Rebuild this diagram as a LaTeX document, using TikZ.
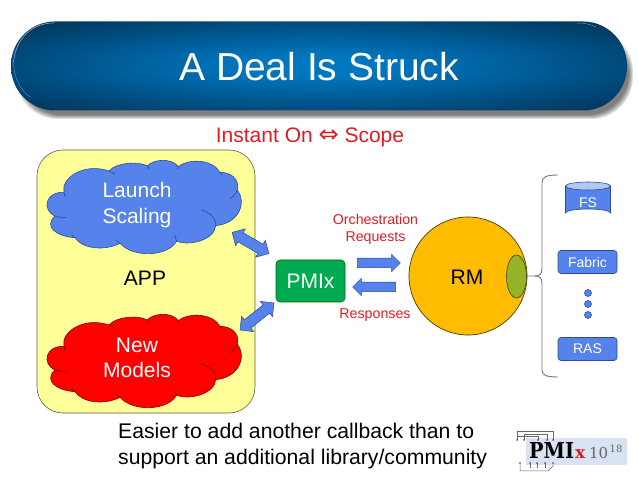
\documentclass[tikz,border=0pt]{standalone}
\usepackage{fontspec}
\setmainfont{Liberation Sans}
\newfontfamily\logoserif{DejaVu Serif}
\usetikzlibrary{shapes.arrows,shapes.geometric}
\definecolor{bandlight}{RGB}{0,118,190}
\definecolor{bandmid}{RGB}{0,88,145}
\definecolor{bandlow}{RGB}{0,56,94}
\definecolor{banddark}{RGB}{0,32,54}
\definecolor{appfill}{RGB}{255,255,153}
\definecolor{appline}{RGB}{95,95,70}
\definecolor{cloudblue}{RGB}{85,130,235}
\definecolor{cloudline}{RGB}{45,75,150}
\definecolor{redtext}{RGB}{222,28,36}
\definecolor{pmigreen}{RGB}{0,170,80}
\definecolor{rmorange}{RGB}{255,188,0}
\definecolor{rmgreen}{RGB}{150,178,40}
\definecolor{bracegray}{RGB}{120,120,120}
\definecolor{logoblue}{RGB}{217,226,243}
\pgfdeclareradialshading{bandshade}{\pgfpoint{0bp}{0bp}}{
  color(0bp)=(bandlight);color(6bp)=(bandlight);color(19bp)=(bandmid);color(33bp)=(bandlow);color(50bp)=(banddark)}
\newcommand{\cloudshape}{
  (72,112) .. controls (62,70) and (130,22) .. (207,48)
  .. controls (230,22) and (295,18) .. (322,33)
  .. controls (340,12) and (395,8) .. (415,35)
  .. controls (450,8) and (520,15) .. (540,52)
  .. controls (570,52) and (600,70) .. (592,105)
  .. controls (620,140) and (600,205) .. (527,212)
  .. controls (525,255) and (445,275) .. (410,258)
  .. controls (385,305) and (280,310) .. (240,265)
  .. controls (190,290) and (125,280) .. (105,248)
  .. controls (50,245) and (10,215) .. (45,183)
  .. controls (5,165) and (15,110) .. (72,112) -- cycle
}
\newcommand{\cloudinner}{
  (72,112) -- (75,125)
  (45,183) .. controls (55,187) and (68,188) .. (80,187)
  (207,48) .. controls (213,50) and (220,54) .. (225,58)
  (322,33) -- (328,42)
  (415,35) -- (412,42)
  (540,52) -- (546,60)
  (592,105) .. controls (588,115) and (580,125) .. (570,132)
  (483,165) .. controls (510,172) and (530,190) .. (527,212)
  (410,258) .. controls (407,252) and (405,246) .. (405,240)
  (240,265) -- (228,255)
  (105,248) -- (95,240)
}
\tikzset{
  cloudbody/.style={line width=0.6pt},
  whitetext/.style={text=white,align=center,inner sep=0pt},
  redlabel/.style={text=redtext,font=\fontsize{14.2}{17}\selectfont,align=center,inner sep=0pt},
  flowarrow/.style={single arrow,draw=cloudline,fill=cloudblue,line width=0.5pt,minimum height=43pt,text height=4.5pt,text depth=4.5pt,text width=1pt,single arrow head extend=4pt,single arrow head indent=0pt,inner sep=0pt},
  linkarrow/.style={double arrow,draw=cloudline,fill=cloudblue,line width=0.5pt,text height=5pt,text depth=5pt,text width=1pt,double arrow head extend=4.5pt,double arrow head indent=0pt,inner sep=0pt},
  resbox/.style={draw=cloudline,fill=cloudblue,rounded corners=3pt,line width=0.6pt,text=white,font=\fontsize{14}{14}\selectfont,inner sep=0pt},
  dotnode/.style={circle,draw=cloudline,fill=cloudblue,line width=0.6pt,minimum size=7pt,inner sep=0pt},
  logotrace/.style={draw=black!60,line width=0.5pt},
  logodot/.style={circle,fill=black!70,minimum size=1.6pt,inner sep=0pt},
}
\begin{document}
\begin{tikzpicture}[x=1pt,y=-1pt]
\useasboundingbox (0,0) rectangle (638,478);
\fill[white] (0,0) rectangle (638,478);
% title band
\foreach \i in {0,1,...,4}{
  \fill[black,opacity=0.13,rounded corners=42pt] ({16+\i},{30+\i}) rectangle ({633-\i},{119-\i});
}
\path[shading=bandshade,rounded corners=44pt] (11,21.5) rectangle (627,110.5);
\draw[white!75!black,line width=0.6pt,opacity=0.8,line cap=round] (54,23) .. controls (32,23) and (16,38) .. (13.5,62);
\draw[white!55!bandmid,line width=0.5pt,opacity=0.6,line cap=round] (13.5,62) .. controls (14,78) and (20,90) .. (30,97);
\draw[white!55!bandmid,line width=0.5pt,opacity=0.7] (577,23) .. controls (584,23) and (590,24) .. (596,27);
\node[text=white,font=\fontsize{39}{39}\selectfont,inner sep=0pt] (title) at (319,67) {A Deal Is Struck};
\node[text=redtext,font=\fontsize{21}{21}\selectfont,inner sep=0pt] (subtitle) at (310,137) {Instant On {\fontspec{DejaVu Sans}\fontsize{24}{21}\selectfont ⇔} Scope};
% app
\node[draw=appline,fill=appfill,rounded corners=26pt,line width=0.6pt,minimum width=218pt,minimum height=263pt,inner sep=0pt] (app) at (146,281.5) {};
\begin{scope}[x=0.3333pt,y=-0.3333pt,shift={(40pt,-155pt)}]
  \fill[cloudblue] \cloudshape;
  \draw[cloudline,cloudbody] \cloudshape;
  \draw[cloudline,cloudbody] \cloudinner;
\end{scope}
\begin{scope}[x=0.3333pt,y=-0.3333pt,shift={(40pt,-309pt)}]
  \fill[red] \cloudshape;
  \draw[red!50!black,cloudbody] \cloudshape;
  \draw[red!50!black,cloudbody] \cloudinner;
\end{scope}
\node[whitetext,font=\fontsize{21}{26}\selectfont] (launch) at (137,205) {Launch\\Scaling};
\node[whitetext,font=\fontsize{21}{25}\selectfont] (models) at (137,358) {New\\Models};
\node[font=\fontsize{21}{21}\selectfont,inner sep=0pt] (applabel) at (145,278) {APP};
% PMIx
\node[draw=green!40!black,fill=pmigreen,rounded corners=4pt,line width=0.6pt,minimum width=69pt,minimum height=42pt,inner sep=0pt,text=white,font=\fontsize{21}{21}\selectfont] (pmix) at (310.5,281) {PMIx};
\node[linkarrow,minimum height=42.5pt,rotate=-30] (linkup) at (250.5,243) {};
\node[linkarrow,minimum height=43.5pt,rotate=38.5] (linkdown) at (257,316.5) {};
% RM
\node[circle,draw=black!70!rmorange,fill=rmorange,line width=0.7pt,minimum size=118pt,inner sep=0pt] (rm) at (468,276) {};
\node[ellipse,draw=black!60!rmgreen,fill=rmgreen,line width=0.6pt,minimum width=20pt,minimum height=43pt,inner sep=0pt] (port) at (516.5,276.5) {};
\node[font=\fontsize{21}{21}\selectfont,inner sep=0pt] (rmlabel) at (467,277) {RM};
% flow arrows
\node[flowarrow] (req) at (376.5,263) {};
\node[flowarrow,shape border rotate=180] (resp) at (376.5,287) {};
\node[redlabel] (orch) at (375.5,229.5) {Orchestration\\Requests};
\node[redlabel] (resplabel) at (375,315.5) {Responses};
% brace
\coordinate (bracetip) at (527,276);
\draw[bracegray,line width=0.9pt] (bracetip) -- (535,276) .. controls (540,276) and (542,274) .. (542,268) -- (542,183) .. controls (542,177) and (546,175) .. (558,175);
\draw[bracegray,line width=0.9pt] (535,276) .. controls (540,276) and (542,278) .. (542,284) -- (542,370) .. controls (542,375) and (546,377) .. (558,377);
% resources
\draw[cloudline,fill=cloudblue,line width=0.6pt] (565.5,186) -- (565.5,213) arc[start angle=180,end angle=360,x radius=22.5pt,y radius=-4pt] -- (610.5,186) -- cycle;
\draw[cloudline,fill=cloudblue!45!white,line width=0.6pt] (588,186) ellipse[x radius=22.5pt,y radius=4pt];
\node[text=white,font=\fontsize{14}{14}\selectfont,inner sep=0pt] (fslabel) at (588,203) {FS};
\node[resbox,minimum width=59pt,minimum height=23pt] (fabric) at (587.5,262) {Fabric};
\node[dotnode] (d1) at (588,293) {};
\node[dotnode] (d2) at (588,304) {};
\node[dotnode] (d3) at (588,315) {};
\node[resbox,minimum width=59pt,minimum height=23pt] (ras) at (587.5,349) {RAS};
% bottom text
\node[anchor=west,align=left,font=\fontsize{21.2}{26}\selectfont,inner sep=0pt] (note) at (118,446) {Easier to add another callback than to\\support an additional library/community};
% logo
\fill[logoblue] (526,438) rectangle (627,465);
\draw[logotrace] (517,440) -- (517,431) -- (553,431) -- (553,440);
\draw[logotrace] (524,440) -- (524,434) -- (547,434) -- (547,440);
\draw[logotrace] (517,436) -- (538,436) -- (538,440);
\draw[logotrace] (520,463) -- (520,471) -- (548,471) -- (553,466) -- (553,463);
\draw[logotrace] (530,463) -- (530,468);
\draw[logotrace] (537,463) -- (537,468);
\draw[logotrace] (545,463) -- (545,468);
\foreach \n/\p in {a/{(517,440)},b/{(524,440)},c/{(538,440)},d/{(547,440)},e/{(553,440)},f/{(520,463)},g/{(530,463)},h/{(537,463)},i/{(545,463)},j/{(553,463)}}{
  \node[logodot] (t\n) at \p {};
}
\node[anchor=base west,font=\fontsize{22}{22}\selectfont,inner sep=0pt,xscale=0.88,transform shape] (logopmi) at (529,459) {\logoserif\bfseries PMI};
\node[anchor=base west,text=redtext,font=\fontsize{17}{17}\selectfont,inner sep=0pt] (logox) at (575,459) {\logoserif\bfseries x};
\node[anchor=base west,text=black!60,font=\fontsize{15}{15}\selectfont,inner sep=0pt] (logoten) at (589,459) {\logoserif 10};
\node[anchor=base west,text=black!60,font=\fontsize{10}{10}\selectfont,inner sep=0pt] (logoexp) at (609.5,453) {\logoserif 18};
\end{tikzpicture}
\end{document}
